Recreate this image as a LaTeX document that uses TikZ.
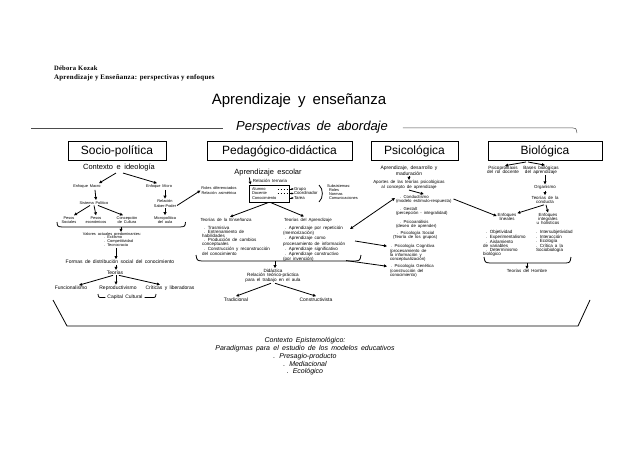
\documentclass[tikz,border=0pt]{standalone}
\usepackage{fontspec}
\setmainfont{Liberation Sans}[WordSpace=1.7]
\newfontfamily\hdrfont{Liberation Serif}[LetterSpace=4]
\usetikzlibrary{arrows.meta,calc}
\newcommand{\fsz}[2]{\fontsize{#1}{#2}\selectfont}
\tikzset{
  every node/.style={inner sep=0pt,outer sep=0pt},
  headbox/.style={draw,line width=0.6pt,minimum height=19pt,font=\fsz{12}{14}},
  ftiny/.style={align=center,font=\fsz{3.9}{4.6}},
  fsmall/.style={align=center,font=\fsz{4.4}{4.4}},
  flist/.style={align=left,anchor=north west,font=\fsz{4.5}{4}},
  fmid/.style={align=center,font=\fsz{7.5}{9}},
  fmidb/.style={align=center,font=\fsz{5}{5.5}},
  ar/.style={-{Triangle[length=3pt,width=2.8pt]},line width=0.8pt},
  arthin/.style={-{Triangle[length=2.2pt,width=2pt]},line width=0.4pt},
  ln/.style={line width=0.8pt},
}
\begin{document}
\begin{tikzpicture}[x=1pt,y=-1pt]
\useasboundingbox[fill=white] (0,0) rectangle (638,452);
% header
\node[anchor=west,font=\hdrfont\bfseries\fsz{6.6}{8}] (h1) at (54,68.5) {Débora Kozak};
\node[anchor=west,font=\hdrfont\bfseries\fsz{6.9}{8}] (h2) at (54,78) {Aprendizaje y Enseñanza: perspectivas y enfoques};
% title
\node[font=\fsz{15}{18}] (title) at (299,101) {Aprendizaje y enseñanza};
\node[font=\itshape\fsz{13}{15}] (persp) at (312,127) {Perspectivas de abordaje};
\coordinate (pl) at (31,128);
\coordinate (pr) at (577,133);
\draw[line width=0.5pt,black!70] (pl) -- ($(persp.west)+(-13,1)$);
\draw[line width=0.5pt,black!70] ($(persp.east)+(15,1)$) -- (573,128) .. controls (576,128) .. (pr);
% boxes
\node[headbox,minimum width=98pt] (socio) at (117,151) {Socio-política};
\node[headbox,minimum width=145pt] (pedag) at (279.5,151) {Pedagógico-didáctica};
\node[headbox,minimum width=87pt] (psico) at (414.5,151) {Psicológica};
\node[headbox,minimum width=114pt] (bio) at (545,151) {Biológica};
% ---------- Socio-politica
\node[fmid] (ctx) at (119,168) {Contexto e ideología};
\node[ftiny] (emacro) at (87,186.5) {Enfoque Macro};
\node[ftiny] (emicro) at (159,186.5) {Enfoque Micro};
\draw[ar] ($(ctx.south)+(-3,1.5)$) -- ($(emacro.north)+(12,-1.5)$);
\draw[ar] ($(ctx.south)+(4,1.5)$) -- ($(emicro.north)+(-2,-1.5)$);
\node[ftiny] (sispol) at (94,203) {Sistema Político};
\draw[ar] ($(emacro.south)+(8,1.5)$) -- ($(sispol.north)+(2,-1.5)$);
\node[ftiny] (rsp) at (165,203.5) {Relación\\Saber-Poder};
\draw[ar] ($(emicro.south)+(6,1.5)$) -- ($(rsp.north)+(0,-1)$);
\node[ftiny] (psoc) at (69,220) {Pesos\\Sociales};
\node[ftiny] (peco) at (96,220) {Pesos\\económicos};
\node[ftiny] (pcul) at (127,220) {Concepción\\de Cultura};
\node[ftiny] (micro) at (165,220) {Micropolítica\\del aula};
\draw[ar] ($(sispol.south)+(-4,1)$) -- ($(psoc.north)+(5,-1)$);
\draw[ar] ($(sispol.south)+(0,1)$) -- ($(peco.north)+(0,-1)$);
\draw[ar] ($(sispol.south)+(4,1)$) -- ($(pcul.north)+(-4,-1)$);
\draw[ar] ($(rsp.south)+(0,1)$) -- ($(micro.north)+(0,-1)$);
\draw[ln] (57,222) .. controls (57.5,226.5) .. (62,227) -- (180,227) .. controls (185,226.5) .. (185.5,222);
\coordinate (b1) at (121,227);
\node[ftiny] (valores) at (112,234) {Valores actuales predominantes:};
\draw[ar] (b1) -- ($(valores.north)+(9,-0.3)$);
\node[align=left,anchor=north west,font=\fsz{3.9}{4}] (vlist) at (104,236) {. Exitismo\\. Competitividad\\. Tecnocracia};
\node[fmidb] (formas) at (120,262) {Formas de distribución social del conocimiento};
\draw[ar] ($(vlist.south west)+(12,1.5)$) -- ($(formas.north)+(-4,-1)$);
\node[fmidb] (teorias) at (115,272.5) {Teorías};
\draw[ar] ($(formas.south)+(-4,1)$) -- ($(teorias.north)+(1,-0.8)$);
\node[fmidb] (func) at (71,288) {Funcionalismo};
\node[fmidb] (repro) at (118,288) {Reproductivismo};
\node[fmidb] (crit) at (170,288) {Críticas y liberadoras};
\draw[ar] ($(teorias.south)+(-2,1)$) -- ($(func.north)+(8,-1)$);
\draw[ar] ($(teorias.south)+(1,1)$) -- ($(repro.north)+(-2,-1)$);
\draw[ar] ($(teorias.south)+(4,1)$) -- ($(crit.north)+(-10,-1)$);
\node[fmidb] (capcul) at (125,297.5) {Capital Cultural};
\draw[ln] ($(capcul.west)+(-2,0)$) -- (102,297.5) .. controls (98.5,297.5) .. (98,294);
\draw[ln] ($(capcul.east)+(2,0)$) -- (152,297.5) .. controls (155.5,297.5) .. (156,294);
% ---------- Pedagogico
\node[fmid] (aesc) at (268,173) {Aprendizaje escolar};
\node[fsmall] (rtern) at (270,181) {Relación ternaria};
\node[draw,line width=0.6pt,minimum width=40pt,minimum height=17pt] (tern) at (269.5,193.5) {};
\node[align=left,anchor=west,font=\fsz{4}{4.5}] (adc) at (252,193.5) {Alumno\\Docente\\Conocimiento};
\draw[line width=0.4pt,dash pattern=on 1.5pt off 1.5pt] ($(tern.east)+(-12,-4.5)$) -- ($(tern.east)+(-2,-4.5)$);
\draw[line width=0.4pt,dash pattern=on 1.5pt off 1.5pt] ($(tern.east)+(-12,0)$) -- ($(tern.east)+(-2,0)$);
\draw[ar] ($(aesc.south west)+(15,1)$) -- ($(tern.north west)+(1,-0.5)$);
\node[ftiny] (roles) at (219,190.5) {Roles diferenciados\\Relación asimétrica};
\node[align=left,anchor=west,font=\fsz{4.3}{4.5}] (gct) at (294,193.5) {Grupo\\Coordinador\\Tarea};
\draw[arthin] ($(tern.east)+(0,-4.5)$) -- ($(gct.west)+(-0.3,-4.5)$);
\draw[arthin] (tern.east) -- ($(gct.west)+(-0.3,0)$);
\draw[arthin] ($(tern.east)+(0,4.5)$) -- ($(gct.west)+(-0.3,4.5)$);
\draw[ln] (319,185) .. controls (323.5,189) and (323.5,198) .. (319,202);
\node[align=left,anchor=north west,font=\fsz{3.9}{4}] (subs) at (327,185) {Subsistemas:\\\hspace{2pt}Roles\\\hspace{2pt}Normas\\\hspace{2pt}Comunicaciones};
\draw[ar] ($(rsp.east)+(1,2)$) -- ($(roles.west)+(-1,0)$);
\node[fsmall] (tens) at (226,220) {Teorías de la Enseñanza};
\node[fsmall] (tapr) at (308,220) {Teorías del Aprendizaje};
\draw[ar] ($(tern.south)+(-1,0.5)$) -- ($(tens.north)+(4,-1.5)$);
\draw[ar] ($(tern.south)+(1,0.5)$) -- ($(tapr.north)+(-4,-1.5)$);
\node[flist] (lens) at (202,226) {\hspace{2pt}. Trasmisiva\\\hspace{2pt}. Entrenamiento de\\habilidades\\\hspace{2pt}. Producción de cambios\\conceptuales\\\hspace{2pt}. Construcción y reconstrucción\\del conocimiento};
\node[flist] (lapr) at (283,226) {\hspace{2pt}. Aprendizaje por repetición\\(memorización)\\\hspace{2pt}. Aprendizaje como\\procesamiento de información\\\hspace{2pt}. Aprendizaje significativo\\\hspace{2pt}. Aprendizaje constructivo\\(por invención)};
\draw[ln] (196,255) .. controls (197,260.5) .. (202,261) -- (355,261) .. controls (360,260.5) .. (361,255);
\coordinate (b2) at (275,261);
\node[fsmall,font=\fsz{4.6}{4.6}] (did) at (273,275.5) {Didáctica\\Relación teórico-práctica\\para el trabajo en el aula};
\draw[ar] (b2) -- ($(did.north)+(2,-0.5)$);
\node[fmidb] (trad) at (236,300) {Tradicional};
\node[fmidb] (cons) at (316,300) {Constructivista};
\draw[ar] ($(did.south)+(-2,1)$) -- ($(trad.north)+(0,-2)$);
\draw[ar] ($(did.south)+(2,1)$) -- ($(cons.north)+(0,-2)$);
% ---------- Psicologica
\node[fmidb] (adm) at (409,170.5) {Aprendizaje, desarrollo y\\maduración};
\node[fsmall] (aport) at (409,185) {Aportes de las teorías psicológicas\\al concepto de aprendizaje};
\draw[ar] ($(adm.south)+(0,0.8)$) -- ($(aport.north)+(0,-0.8)$);
\node[align=left,anchor=west,font=\fsz{4.3}{4.2}] (conduct) at (396,199) {\hspace{4pt}. Conductismo\\(modelo estímulo-respuesta)};
\draw[ar] ($(aport.south)+(0,0.8)$) -- ($(conduct.north)+(0,-0.8)$);
\node[align=left,anchor=west,font=\fsz{4.3}{4.2}] (gest) at (396,211) {\hspace{4pt}. Gestalt\\(percepción - integralidad)};
\node[align=left,anchor=west,font=\fsz{4.3}{4.2}] (psan) at (396,224) {\hspace{4pt}. Psicoanálisis\\(deseo de aprender)};
\node[align=left,anchor=west,font=\fsz{4.3}{4.2}] (psoc2) at (393,235) {\hspace{4pt}. Psicología Social\\(Teoría de los grupos)};
\node[align=left,anchor=west,font=\fsz{4.3}{4.2}] (pcog) at (390,253) {\hspace{1pt}. Psicología Cognitiva\\(procesamiento de\\la información y\\conceptualización)};
\node[align=left,anchor=west,font=\fsz{4.3}{4.2}] (pgen) at (390,271) {\hspace{1pt}. Psicología Genética\\(construcción del\\conocimiento)};
\draw[{Triangle[length=3pt,width=2.8pt]}-{Triangle[length=3pt,width=2.8pt]},line width=0.8pt] ($(lapr.north east)+(5,3)$) -- ($(conduct.west)+(-1,-1)$);
\draw[ar] ($(lapr.north east)+(10,15)$) -- ($(pcog.north west)+(-3,1.5)$);
\draw[ar] ($(lapr.south east)+(1,-1)$) -- ($(pgen.north west)+(-3,1.5)$);
% ---------- Biologica
\node[fsmall,font=\fsz{4.6}{4.4}] (psicop) at (503,170) {Psicoprofilaxis\\del rol docente};
\node[fsmall,font=\fsz{4.6}{4.4}] (bases) at (541,170) {Bases biológicas\\del aprendizaje};
\draw[ar] ($(bio.south)+(-19,1.5)$) -- ($(psicop.north)+(2,-0.5)$);
\draw[ar] ($(bio.south)+(-17,1.5)$) -- ($(bases.north)+(4,-0.5)$);
\node[fsmall] (org) at (545,187.5) {Organismo};
\draw[ar] ($(bases.south)+(4,1)$) -- ($(org.north)+(0,-1)$);
\node[fsmall] (tcond) at (545,200) {Teorías de la\\conducta};
\draw[ar] ($(org.south)+(0,1)$) -- ($(tcond.north)+(0,-1)$);
\node[fsmall] (elin) at (507,217) {Enfoques\\lineales};
\node[fsmall] (eint) at (548,219) {Enfoques\\integrales\\u holísticos};
\draw[ar] ($(tcond.south)+(-1,1)$) -- ($(elin.north east)+(1,0)$);
\draw[ar] ($(tcond.south)+(1,1)$) -- ($(eint.north)+(0,-0.5)$);
\draw[ar] ($(conduct.east)+(2,0)$) -- ($(elin.west)+(-1,-1)$);
\node[flist] (blist1) at (483,230) {\hspace{3pt}. Objetividad\\\hspace{3pt}. Experimentalismo\\\hspace{3pt}. Aislamiento\\de variables\\\hspace{3pt}. Determinismo\\biológico};
\node[flist] (blist2) at (536,230) {. Intersubjetividad\\. Interacción\\. Ecología\\. Crítica a la\\Sociobiología};
\draw[ln] (484,257) .. controls (485,262.5) .. (490,263) -- (566,263) .. controls (570,262.5) .. (571,257);
\coordinate (b3) at (527,263);
\node[fsmall] (thom) at (527,271) {Teorías del Hombre};
\draw[ar] (b3) -- ($(thom.north)+(0,-0.5)$);
% ---------- big bracket
\draw[line width=0.8pt] (53,300) -- (67,326) -- (578,326) -- (590,300);
\node[align=center,font=\itshape\fsz{7}{7.8}] (epi) at (305,356.5) {Contexto Epistemológico:\\Paradigmas para el estudio de los modelos educativos\\. Presagio-producto\\. Mediacional\\. Ecológico};
\end{tikzpicture}
\end{document}
